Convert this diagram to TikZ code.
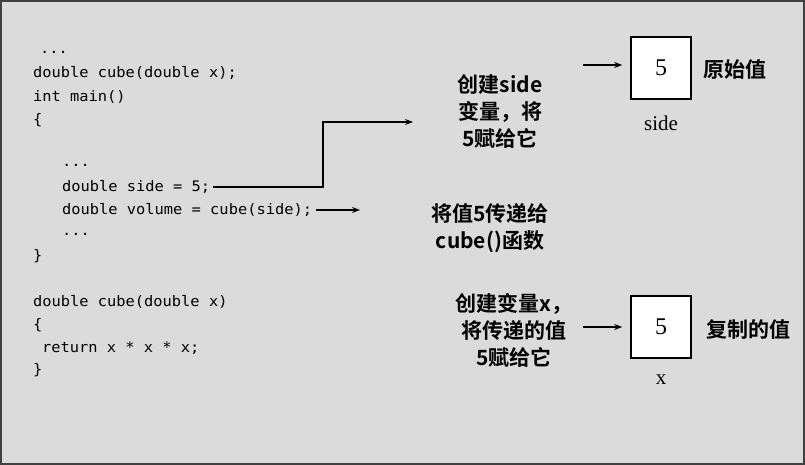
\documentclass[tikz,border=0pt]{standalone}
\usepackage{fontspec}
\usetikzlibrary{arrows.meta}
\setmainfont{Liberation Serif}
\setmonofont{DejaVu Sans Mono}[FakeStretch=1.06]
\newfontfamily\cjk{Noto Sans CJK SC}[BoldFont=* Bold]
\tikzstyle{code}=[anchor=west,inner sep=0pt,font=\ttfamily\fontsize{14.5}{14.5}\selectfont]
\tikzstyle{note}=[align=center,inner sep=0pt,font=\cjk\bfseries\fontsize{21}{27}\selectfont]
\tikzstyle{cell}=[draw=black,line width=1.6pt,fill=white,minimum width=60pt,minimum height=62pt,font=\fontsize{24}{24}\selectfont]
\tikzstyle{lbl}=[inner sep=0pt,font=\fontsize{21}{21}\selectfont]
\begin{document}
\begin{tikzpicture}[x=1pt,y=-1pt,>={Stealth[length=8pt,width=6pt]}]
			\fill[gray!28,draw=black!75,line width=2pt] (1,1) rectangle (804,464);
			\useasboundingbox (0,0) rectangle (805,465);
			
			% code
			\node [code] (c0) at (40,52) {...};
			\node [code] (c1) at (33,73) {double cube(double x);};
			\node [code] (c2) at (33,97) {int main()};
			\node [code] (c3) at (33,120) {\{};
			\node [code] (c4) at (62,165) {...};
			\node [code] (side) at (62,187) {double side = 5;};
			\node [code] (vol) at (62,210) {double volume = cube(side);};
			\node [code] (c7) at (62,234) {...};
			\node [code] (c8) at (33,256) {\}};
			\node [code] (c9) at (33,302) {double cube(double x)};
			\node [code] (c10) at (33,325) {\{};
			\node [code] (c11) at (42,348) {return x * x * x;};
			\node [code] (c12) at (33,370) {\}};
			
			% notes
			\node [note] (n1) at (500,112) {创建side\\变量，将\\5赋给它};
			\node [note] (n2) at (490,228) {将值5传递给\\cube()函数};
			\node [note] (n3) at (514,330) {创建变量x，\\将传递的值\\5赋给它};
			
			% boxes
			\node [cell] (b1) at (661,68) {5};
			\node [cell] (b2) at (661,327) {5};
			\node [lbl] (s1) at (661,123) {side};
			\node [lbl] (s2) at (661,380) {x};
			\node [note,anchor=west] (o1) at (703,70) {原始值};
			\node [note,anchor=west] (o2) at (706,330) {复制的值};
			
			\coordinate (t1) at (413,122);
			\coordinate (t2) at (360,210);
			\coordinate (a1) at (583,65);
			\coordinate (a2) at (583,327);
			
			\draw [->,line width=1.1pt] (side.east) ++(3,0) -- (323,187) -- (323,122) -- (t1);
			\draw [->,line width=1.1pt] (vol.east) ++(4,0) -- (t2);
			\draw [->,line width=1.1pt] (a1) -- ([xshift=-8pt]b1.west |- a1);
			\draw [->,line width=1.1pt] (a2) -- ([xshift=-8pt]b2.west);
		\end{tikzpicture}
\end{document}
